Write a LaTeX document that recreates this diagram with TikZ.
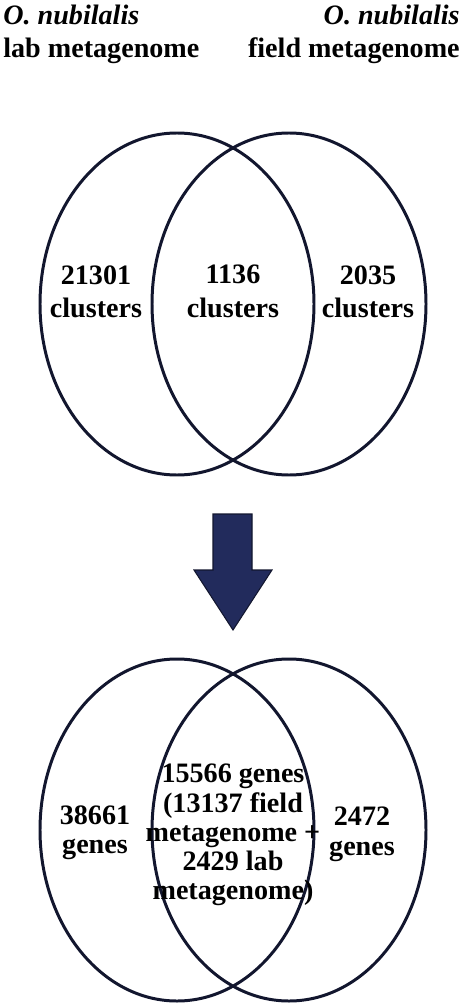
\documentclass[tikz,border=0pt]{standalone}
\usepackage{fontspec}
\setmainfont{Liberation Serif}
\usepackage{tikz}
\usetikzlibrary{shapes.geometric}
\definecolor{vennline}{RGB}{18,22,46}
\definecolor{arrowfill}{RGB}{34,43,92}

\begin{document}
\begin{tikzpicture}[font=\bfseries\fontsize{16}{18.8}\selectfont,
  venn/.style={ellipse,draw=vennline,line width=1.7pt,minimum width=5.48cm,minimum height=6.84cm,inner sep=0pt},
  count/.style={align=center,inner sep=0pt,anchor=north},
  tight/.style={font=\bfseries\fontsize{16}{16.6}\selectfont}]
\useasboundingbox (0,0) rectangle (9.3,-20.1);
\node[align=left,inner sep=0pt,anchor=north west] (labname) at (.06,-.1) {\textit{O. nubilalis}\\lab metagenome};
\node[align=right,inner sep=0pt,anchor=north east] (fieldname) at (9.2,-.1) {\textit{O. nubilalis}\\field metagenome};
\node[venn] (labA) at (3.54,-6.08) {};
\node[venn] (fieldA) at (5.78,-6.08) {};
\node[count] (labonly) at (1.92,-5.3) {21301\\clusters};
\node[count] (shared) at (4.66,-5.3) {1136\\clusters};
\node[count] (fieldonly) at (7.36,-5.3) {2035\\clusters};
\draw[fill=arrowfill,draw=vennline,line width=.6pt] (4.26,-10.28) -- (5.04,-10.28) -- (5.04,-11.4) -- (5.44,-11.4)
  -- (4.66,-12.6) -- (3.88,-11.4) -- (4.26,-11.4) -- cycle;
\node[venn] (labB) at (3.54,-16.6) {};
\node[venn] (fieldB) at (5.78,-16.6) {};
\node[count,tight] (labgenes) at (1.9,-16.1) {38661\\genes};
\node[count,tight] (sharedgenes) at (4.66,-15.28) {15566 genes\\(13137 field\\metagenome +\\2429 lab\\metagenome)};
\node[count,tight] (fieldgenes) at (7.24,-16.14) {2472\\genes};
\end{tikzpicture}
\end{document}
